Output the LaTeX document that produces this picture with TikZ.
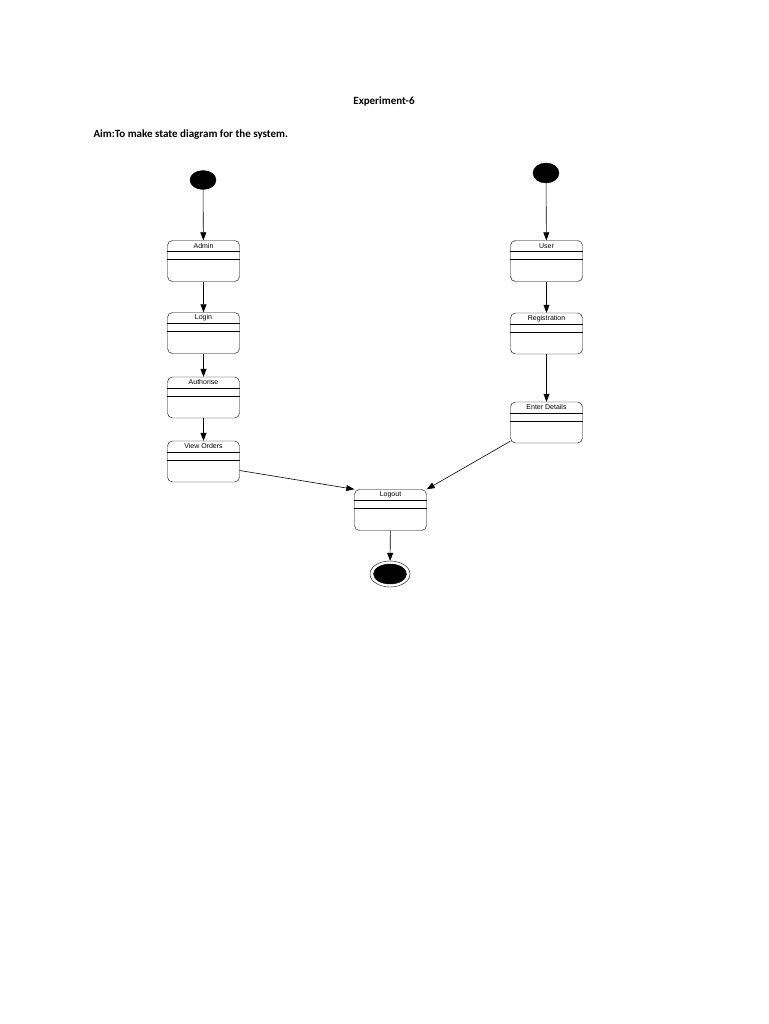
\documentclass[tikz,border=0pt]{standalone}
\usepackage{fontspec}
\setmainfont{Carlito}
\setsansfont{Liberation Sans}
\usetikzlibrary{arrows.meta,shapes.geometric}
\begin{document}
\begin{tikzpicture}[x=1pt,y=-1pt,
 st/.style={draw,rounded corners=5pt,minimum width=72pt,minimum height=41pt,inner sep=0pt},
 arr/.style={-{Triangle[length=8pt,width=6pt]},line width=0.6pt},
 lbl/.style={font=\sffamily\fontsize{7}{8}\selectfont}]
\useasboundingbox (0,0) rectangle (768,1024);
\node[font=\bfseries\fontsize{11}{13}\selectfont] (t) at (384,102) {Experiment-6};
\node[font=\bfseries\fontsize{11}{13}\selectfont,anchor=west] (aim) at (90,135) {Aim:To make state diagram for the system.};
\newcommand{\stbox}[4]{%
 \node[st] (#1) at (#2,#3) {};
 \draw ([yshift=-11pt]#1.north west) -- ([yshift=-11pt]#1.north east);
 \draw ([yshift=-19pt]#1.north west) -- ([yshift=-19pt]#1.north east);
 \node[lbl] (#1l) at ([yshift=-5.5pt]#1.north) {#4};}
\stbox{admin}{203.5}{261}{Admin}
\stbox{login}{203.5}{333}{Login}
\stbox{auth}{203.5}{397.5}{Authorise}
\stbox{view}{203.5}{461.5}{View Orders}
\stbox{user}{546.5}{261}{User}
\stbox{reg}{546.5}{333.5}{Registration}
\stbox{det}{546.5}{422.5}{Enter Details}
\stbox{logout}{390.5}{510}{Logout}
\node[draw,fill=black,ellipse,minimum width=26pt,minimum height=19pt,inner sep=0pt] (s1) at (203,180) {};
\node[draw,fill=black,ellipse,minimum width=26pt,minimum height=20pt,inner sep=0pt] (s2) at (546,173) {};
\node[draw,ellipse,minimum width=40pt,minimum height=26pt,inner sep=0pt] (e) at (390,574) {};
\node[draw,fill=black,ellipse,minimum width=33pt,minimum height=20pt,inner sep=0pt] (ei) at (390,574) {};
\coordinate (v1) at ([yshift=-9pt]view.east);
\coordinate (d1) at ([yshift=2pt]det.south west);
\draw[arr] (s1) -- (admin);
\draw[arr] (admin) -- (login);
\draw[arr] (login) -- (auth);
\draw[arr] (auth) -- (view);
\draw[arr] (s2) -- (user);
\draw[arr] (user) -- (reg);
\draw[arr] (reg) -- (det);
\draw[arr] (v1) -- (logout.north west);
\draw[arr] (d1) -- (logout.north east);
\draw[arr] (logout) -- (e);
\end{tikzpicture}
\end{document}
